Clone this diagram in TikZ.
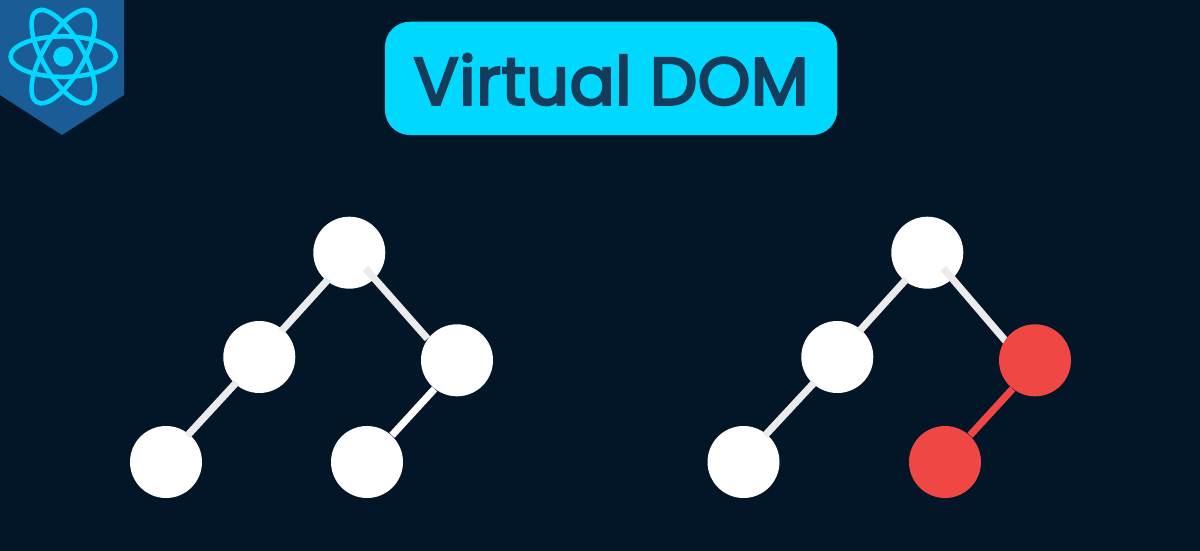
\documentclass[tikz,border=0pt]{standalone}
\usepackage{fontspec}
\setmainfont{Poppins}
\newfontfamily\titlefont{Poppins}[FakeBold=3.5,LetterSpace=0.6]
\pgfdeclarelayer{back}
\pgfdeclarelayer{under}
\pgfdeclarelayer{front}
\pgfdeclarelayer{top}
\pgfsetlayers{back,under,main,front,top}
\definecolor{bgcol}{HTML}{021627}
\definecolor{cyancol}{HTML}{00D8FF}
\definecolor{navy}{HTML}{153D5B}
\definecolor{badgecol}{HTML}{1A5C96}
\definecolor{redcol}{HTML}{EF4844}
\definecolor{linecol}{HTML}{EBEBEB}
\tikzset{
  treenode/.style={circle,fill=white,draw=none,minimum size=72pt,inner sep=0pt,outer sep=0pt},
  rednode/.style={treenode,fill=redcol},
  treeline/.style={draw=linecol,line width=7.2pt},
  whiteline/.style={draw=white,line width=7.2pt},
  redline/.style={draw=redcol,line width=7.2pt},
  orbit/.style={draw=cyancol,line width=4.6pt},
}
\begin{document}
\begin{tikzpicture}[x=1pt,y=-1pt]
\useasboundingbox (0,0) rectangle (1200,551);
\begin{pgfonlayer}{back}
\fill[bgcol] (0,0) rectangle (1200,551);
\fill[badgecol] (0,0) -- (124,0) -- (124,95) -- (62,135) -- (0,95) -- cycle;
\end{pgfonlayer}
% logo
\foreach \r in {0,60,-60}{
  \draw[orbit,rotate around={\r:(63.2,56.6)}] (63.2,56.6) ellipse [x radius=52.6pt,y radius=20.3pt];
}
\fill[cyancol] (63.2,56.6) circle (10pt);
% title
\node[fill=cyancol,rounded corners=25pt,minimum width=452.3pt,minimum height=113.3pt,inner sep=0pt] (title) at (611.1,78.4) {};
\node[text=navy,inner sep=0pt,font=\titlefont\fontsize{67}{67}\selectfont] (label) at (611,79.5) {Virtual DOM};
% left tree
\node[treenode] (a1) at (349.3,252.7) {};
\node[treenode] (a2) at (259.3,357) {};
\node[treenode] (a3) at (457,360.3) {};
\node[treenode] (a4) at (166,462) {};
\node[treenode] (a5) at (367,462) {};
% right tree
\node[treenode] (b1) at (927.3,252.7) {};
\node[treenode] (b2) at (837.3,357) {};
\begin{pgfonlayer}{top}
\node[rednode] (b3) at (1035,360.3) {};
\end{pgfonlayer}
\node[treenode] (b4) at (743.5,462) {};
\node[rednode] (b5) at (945,462) {};
\begin{pgfonlayer}{under}
\draw[whiteline] ([shift={(-22.5,28.7)}]a3.center) -- ([shift={(25,-26.7)}]a5.center);
\draw[redline] ([shift={(-22.5,28.7)}]b3.center) -- ([shift={(25,-26.7)}]b5.center);
\end{pgfonlayer}
\begin{pgfonlayer}{front}
\draw[treeline] ([shift={(-21,26.5)}]a1.center) -- ([shift={(22.2,-26)}]a2.center);
\draw[treeline] ([shift={(16,15.5)}]a1.center) -- ([shift={(-29.5,-21.6)}]a3.center);
\draw[treeline] ([shift={(-23,25.5)}]a2.center) -- ([shift={(21.5,-26.5)}]a4.center);
\draw[treeline] ([shift={(-21,26.5)}]b1.center) -- ([shift={(22.2,-26)}]b2.center);
\draw[treeline] ([shift={(16,15.5)}]b1.center) -- ([shift={(-24,-13)}]b3.center);
\draw[treeline] ([shift={(-23,25.5)}]b2.center) -- ([shift={(21.5,-26.5)}]b4.center);
\end{pgfonlayer}
\end{tikzpicture}
\end{document}
